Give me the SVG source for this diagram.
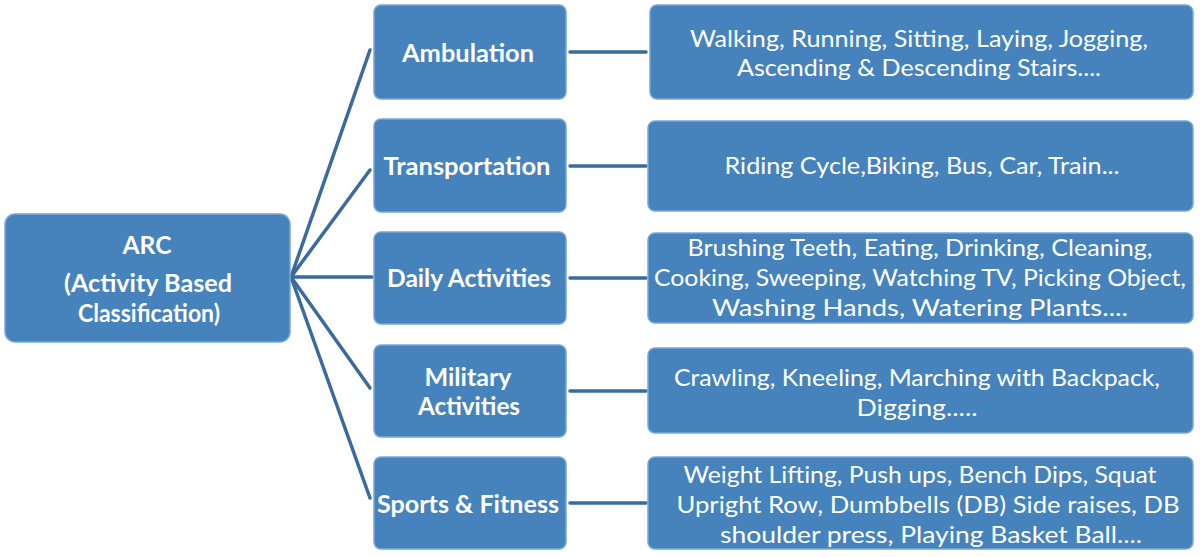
<svg xmlns="http://www.w3.org/2000/svg" width="1200" height="557" viewBox="0 0 1200 557">
<style>
.box{fill:#4683bd;stroke:#7aa7d6;stroke-width:1.5}
.lbl{font-family:Lato,"Liberation Sans",sans-serif;font-weight:bold;font-size:24px;fill:#ffffff;text-anchor:middle;dominant-baseline:central}
.txt{font-family:Lato,"Liberation Sans",sans-serif;font-size:23.5px;fill:#ffffff;text-anchor:middle;dominant-baseline:central}
.conn{stroke:#3b6b9c;stroke-width:3.5;fill:none;stroke-linecap:round}
</style>
<rect width="1200" height="557" fill="#ffffff"/>
<g id="connectors">
<line class="conn" x1="291" y1="277" x2="370" y2="50"/>
<line class="conn" x1="291" y1="277" x2="370" y2="170"/>
<line class="conn" x1="291" y1="277" x2="372" y2="277"/>
<line class="conn" x1="291" y1="277" x2="370" y2="388"/>
<line class="conn" x1="291" y1="277" x2="370" y2="498"/>
<line class="conn" x1="570" y1="52" x2="646" y2="52"/>
<line class="conn" x1="570" y1="166" x2="646" y2="166"/>
<line class="conn" x1="570" y1="278" x2="646" y2="278"/>
<line class="conn" x1="570" y1="391" x2="646" y2="391"/>
<line class="conn" x1="570" y1="503" x2="646" y2="503"/>
</g>
<g id="arc">
<rect class="box" x="5" y="214" width="285" height="128" rx="10"/>
<text class="lbl" x="147" y="244" textLength="49" lengthAdjust="spacingAndGlyphs">ARC</text>
<text class="lbl" x="148" y="282" textLength="168" lengthAdjust="spacingAndGlyphs">(Activity Based</text>
<text class="lbl" x="149" y="312" textLength="142" lengthAdjust="spacingAndGlyphs">Classification)</text>
</g>
<g id="ambulation">
<rect class="box" x="374" y="5" width="192" height="94" rx="7"/>
<text class="lbl" x="468" y="52" textLength="132" lengthAdjust="spacingAndGlyphs">Ambulation</text>
</g>
<g id="transportation">
<rect class="box" x="374" y="119" width="192" height="93" rx="7"/>
<text class="lbl" x="467" y="165" textLength="167" lengthAdjust="spacingAndGlyphs">Transportation</text>
</g>
<g id="daily">
<rect class="box" x="374" y="232" width="192" height="92" rx="7"/>
<text class="lbl" x="469" y="277" textLength="164" lengthAdjust="spacingAndGlyphs">Daily Activities</text>
</g>
<g id="military">
<rect class="box" x="374" y="345" width="192" height="92" rx="7"/>
<text class="lbl" x="468" y="376" textLength="87" lengthAdjust="spacingAndGlyphs">Military</text>
<text class="lbl" x="469" y="405" textLength="102" lengthAdjust="spacingAndGlyphs">Activities</text>
</g>
<g id="sports">
<rect class="box" x="374" y="457" width="192" height="92" rx="7"/>
<text class="lbl" x="468" y="503" textLength="182" lengthAdjust="spacingAndGlyphs">Sports &amp; Fitness</text>
</g>
<g id="ambulation-examples">
<rect class="box" x="650" y="5" width="543" height="94" rx="7"/>
<text class="txt" x="919" y="38" textLength="458" lengthAdjust="spacingAndGlyphs">Walking, Running, Sitting, Laying, Jogging,</text>
<text class="txt" x="919" y="67" textLength="364" lengthAdjust="spacingAndGlyphs">Ascending &amp; Descending Stairs....</text>
</g>
<g id="transportation-examples">
<rect class="box" x="648" y="121" width="545" height="90" rx="7"/>
<text class="txt" x="922" y="165" textLength="395" lengthAdjust="spacingAndGlyphs">Riding Cycle,Biking, Bus, Car, Train...</text>
</g>
<g id="daily-examples">
<rect class="box" x="648" y="233" width="545" height="90" rx="7"/>
<text class="txt" x="920" y="247" textLength="465" lengthAdjust="spacingAndGlyphs">Brushing Teeth, Eating, Drinking, Cleaning,</text>
<text class="txt" x="920" y="277" textLength="532" lengthAdjust="spacingAndGlyphs">Cooking, Sweeping, Watching TV, Picking Object,</text>
<text class="txt" x="920" y="307" textLength="416" lengthAdjust="spacingAndGlyphs">Washing Hands, Watering Plants....</text>
</g>
<g id="military-examples">
<rect class="box" x="648" y="348" width="545" height="85" rx="7"/>
<text class="txt" x="917" y="377" textLength="486" lengthAdjust="spacingAndGlyphs">Crawling, Kneeling, Marching with Backpack,</text>
<text class="txt" x="917" y="407" textLength="121" lengthAdjust="spacingAndGlyphs">Digging.....</text>
</g>
<g id="sports-examples">
<rect class="box" x="648" y="457" width="545" height="92" rx="7"/>
<text class="txt" x="920" y="474" textLength="473" lengthAdjust="spacingAndGlyphs">Weight Lifting, Push ups, Bench Dips, Squat</text>
<text class="txt" x="928" y="504" textLength="503" lengthAdjust="spacingAndGlyphs">Upright Row, Dumbbells (DB) Side raises, DB</text>
<text class="txt" x="931" y="534" textLength="422" lengthAdjust="spacingAndGlyphs">shoulder press, Playing Basket Ball....</text>
</g>
</svg>
